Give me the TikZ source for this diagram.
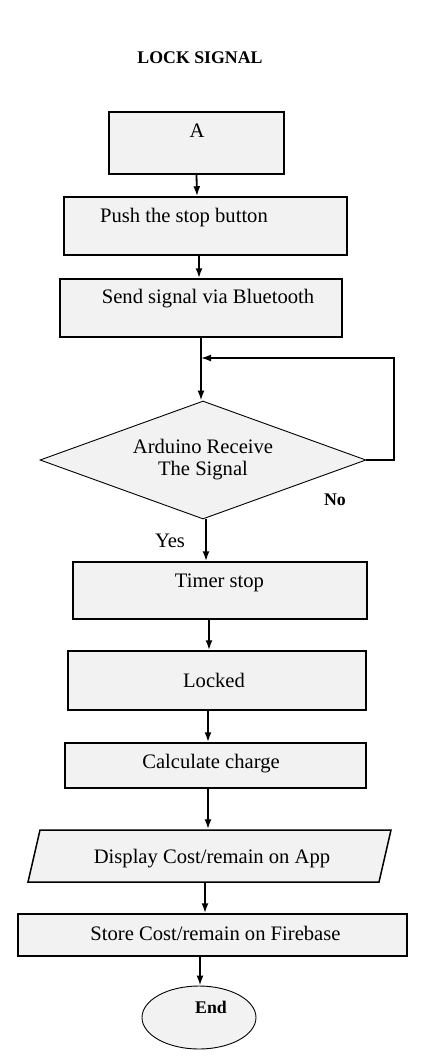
\documentclass[tikz,border=0pt]{standalone}
\usepackage{fontspec}
\setmainfont{Liberation Serif}
\usepackage{tikz}
\usetikzlibrary{shapes.geometric}
\usetikzlibrary{arrows.meta}
\definecolor{boxfill}{HTML}{F2F2F2}
\tikzset{
  procbox/.style={draw, line width=0.75pt, fill=boxfill, inner sep=0pt},
  txt/.style={anchor=base, inner sep=0pt, font=\fontsize{10.3}{11}\selectfont},
  boldtxt/.style={anchor=base, inner sep=0pt, font=\fontsize{8.9}{10}\selectfont\bfseries},
  arr/.style={-{Latex[length=5pt,width=3.5pt]}, line width=0.9pt},
}

\begin{document}
\begin{tikzpicture}[x=0.5pt,y=-0.5pt]
\useasboundingbox (0,0) rectangle (426,1062);

\node[boldtxt] (title) at (200,63) {LOCK SIGNAL};

\node[procbox, minimum width=87.5pt, minimum height=31pt] (a) at (196.5,143) {};
\node[procbox, minimum width=141.5pt, minimum height=29pt] (push) at (205.5,226) {};
\node[procbox, minimum width=141pt, minimum height=29pt] (send) at (201,308) {};
\node[procbox, diamond, aspect=2.76, line width=0.45pt, minimum width=163pt, minimum height=59pt, align=center, font=\fontsize{10.3}{11}\selectfont] (dec) at (203,460) {Arduino Receive\\The Signal};
\node[procbox, minimum width=147pt, minimum height=28.5pt] (timer) at (220,590.5) {};
\node[procbox, minimum width=149pt, minimum height=29.5pt] (lock) at (217,680.5) {};
\node[procbox, minimum width=150.5pt, minimum height=22.5pt] (calc) at (215.5,765.5) {};
\node[procbox, trapezium, inner xsep=2pt, inner ysep=13pt, trapezium left angle=77, trapezium right angle=103, trapezium stretches body=true, minimum width=181.5pt] (disp) at (209.5,856) {};
\node[procbox, minimum width=194.5pt, minimum height=21pt] (store) at (212.5,935) {};
\node[procbox, ellipse, line width=0.45pt, inner sep=2pt, minimum width=57pt, minimum height=31.5pt] (fin) at (199,1017.5) {};

\node[txt] (ta) at (197,137) {A};
\node[txt] (tpush) at (184,222) {Push the stop button};
\node[txt] (tsend) at (208,303) {Send signal via Bluetooth};
\node[boldtxt] (tno) at (335,505) {No};
\node[txt] (tyes) at (170,547) {Yes};
\node[txt] (ttimer) at (219.5,587) {Timer stop};
\node[txt] (tlock) at (214,687) {Locked};
\node[txt] (tcalc) at (211,768) {Calculate charge};
\node[txt] (tdisp) at (212,863) {Display Cost/remain on App};
\node[txt] (tstore) at (215.5,940) {Store Cost/remain on Firebase};
\node[boldtxt] (tend) at (211,1013) {End};

\coordinate (loop) at (394,358);
\draw[arr] (a.south) -- (push.north -| 197,0);
\draw[arr] (push.south -| 199,0) -- (send.north -| 199,0);
\draw[arr] (send.south) -- (send.south |- dec.north);
\draw[arr, line width=0.8pt] (dec.east) -| (loop) -- (loop -| send.south);
\draw[arr] (dec.south -| 206,0) -- (timer.north -| 206,0);
\draw[arr] (timer.south -| 209,0) -- (lock.north -| 209,0);
\draw[arr] (lock.south -| 208,0) -- (calc.north -| 208,0);
\draw[arr] (calc.south -| 208,0) -- (disp.north -| 208,0);
\draw[arr] (disp.south -| 205,0) -- (store.north -| 205,0);
\draw[arr] (store.south -| 200,0) -- (fin.north -| 200,0);
\end{tikzpicture}
\end{document}
